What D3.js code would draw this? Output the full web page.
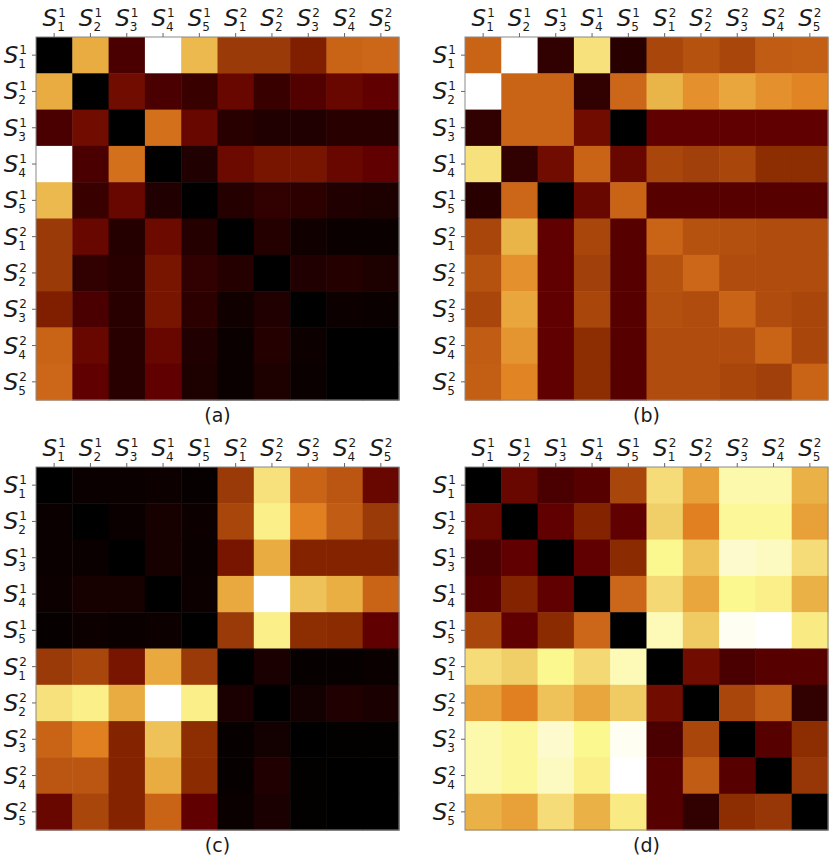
<!DOCTYPE html>
<html>
<head>
<meta charset="utf-8">
<script src="https://cdnjs.cloudflare.com/ajax/libs/d3/7.8.5/d3.min.js"></script>
<style>
  body { margin: 0; background: #fff; }
  text { font-family: "DejaVu Sans", sans-serif; fill: #1a1a1a; }
</style>
</head>
<body>
<svg id="chart"></svg>
<script>
// SET CONSTANTS
const width = 832;
const height = 863;
const cellCount = 10;

// tick labels: S^{sup}_{sub}
const labelSup = [1, 1, 1, 1, 1, 2, 2, 2, 2, 2];
const labelSub = [1, 2, 3, 4, 5, 1, 2, 3, 4, 5];
const captions = ["(a)", "(b)", "(c)", "(d)"];

// matrix values, 0 = black ... 1 = white
const matrixA = [
  [0.00, 0.72, 0.20, 1.00, 0.76, 0.42, 0.42, 0.33, 0.53, 0.54],
  [0.72, 0.00, 0.29, 0.20, 0.16, 0.27, 0.16, 0.22, 0.27, 0.25],
  [0.20, 0.29, 0.00, 0.57, 0.27, 0.12, 0.10, 0.10, 0.12, 0.12],
  [1.00, 0.20, 0.57, 0.00, 0.10, 0.28, 0.31, 0.31, 0.27, 0.25],
  [0.76, 0.16, 0.27, 0.10, 0.00, 0.11, 0.14, 0.13, 0.10, 0.09],
  [0.42, 0.27, 0.11, 0.28, 0.11, 0.00, 0.11, 0.05, 0.03, 0.03],
  [0.42, 0.14, 0.12, 0.31, 0.14, 0.11, 0.00, 0.10, 0.11, 0.09],
  [0.33, 0.20, 0.12, 0.31, 0.13, 0.05, 0.10, 0.00, 0.04, 0.03],
  [0.53, 0.27, 0.12, 0.27, 0.10, 0.03, 0.11, 0.04, 0.00, 0.00],
  [0.54, 0.25, 0.12, 0.25, 0.09, 0.03, 0.09, 0.03, 0.00, 0.00]
];
const matrixB = [
  [0.53, 1.00, 0.14, 0.85, 0.12, 0.44, 0.47, 0.44, 0.50, 0.51],
  [1.00, 0.53, 0.53, 0.14, 0.54, 0.75, 0.65, 0.70, 0.65, 0.63],
  [0.14, 0.53, 0.53, 0.29, 0.00, 0.25, 0.25, 0.25, 0.25, 0.25],
  [0.85, 0.14, 0.29, 0.53, 0.27, 0.44, 0.43, 0.44, 0.37, 0.37],
  [0.12, 0.54, 0.00, 0.27, 0.53, 0.23, 0.23, 0.23, 0.23, 0.23],
  [0.44, 0.75, 0.25, 0.44, 0.23, 0.53, 0.47, 0.46, 0.45, 0.45],
  [0.47, 0.65, 0.25, 0.43, 0.23, 0.47, 0.54, 0.45, 0.45, 0.45],
  [0.44, 0.70, 0.25, 0.44, 0.23, 0.46, 0.45, 0.53, 0.45, 0.44],
  [0.50, 0.66, 0.25, 0.37, 0.23, 0.45, 0.45, 0.45, 0.53, 0.44],
  [0.51, 0.63, 0.25, 0.37, 0.23, 0.45, 0.45, 0.44, 0.43, 0.53]
];
const matrixC = [
  [0.00, 0.03, 0.03, 0.04, 0.02, 0.42, 0.85, 0.53, 0.48, 0.27],
  [0.03, 0.00, 0.03, 0.07, 0.04, 0.44, 0.88, 0.62, 0.50, 0.42],
  [0.03, 0.03, 0.00, 0.07, 0.03, 0.31, 0.72, 0.34, 0.34, 0.34],
  [0.04, 0.07, 0.07, 0.00, 0.04, 0.71, 1.00, 0.78, 0.73, 0.53],
  [0.02, 0.04, 0.03, 0.04, 0.00, 0.42, 0.88, 0.37, 0.36, 0.25],
  [0.42, 0.44, 0.31, 0.71, 0.42, 0.00, 0.08, 0.02, 0.02, 0.03],
  [0.85, 0.88, 0.72, 1.00, 0.88, 0.08, 0.00, 0.06, 0.10, 0.08],
  [0.53, 0.62, 0.34, 0.78, 0.37, 0.02, 0.06, 0.00, 0.01, 0.01],
  [0.48, 0.48, 0.34, 0.72, 0.36, 0.02, 0.10, 0.01, 0.00, 0.00],
  [0.27, 0.44, 0.34, 0.53, 0.25, 0.03, 0.08, 0.01, 0.00, 0.00]
];
const matrixD = [
  [0.00, 0.27, 0.20, 0.23, 0.44, 0.84, 0.68, 0.93, 0.93, 0.74],
  [0.27, 0.00, 0.25, 0.34, 0.25, 0.81, 0.62, 0.91, 0.91, 0.68],
  [0.20, 0.25, 0.00, 0.25, 0.36, 0.90, 0.78, 0.96, 0.95, 0.84],
  [0.23, 0.34, 0.25, 0.00, 0.54, 0.83, 0.70, 0.90, 0.88, 0.74],
  [0.44, 0.25, 0.36, 0.54, 0.00, 0.94, 0.80, 0.99, 1.00, 0.87],
  [0.84, 0.81, 0.90, 0.83, 0.94, 0.00, 0.29, 0.20, 0.23, 0.23],
  [0.68, 0.62, 0.78, 0.70, 0.80, 0.29, 0.00, 0.44, 0.50, 0.14],
  [0.93, 0.91, 0.96, 0.90, 0.99, 0.20, 0.44, 0.00, 0.23, 0.37],
  [0.93, 0.91, 0.95, 0.88, 1.00, 0.23, 0.50, 0.23, 0.00, 0.41],
  [0.74, 0.68, 0.84, 0.74, 0.87, 0.23, 0.14, 0.37, 0.41, 0.00]
];
const matrices = [matrixA, matrixB, matrixC, matrixD];

// heat colour map (black -> red -> orange -> yellow -> white)
const colorScale = d3.scaleLinear()
  .domain([0, 0.1, 0.2, 0.25, 0.3, 0.35, 0.42, 0.45, 0.5, 0.54, 0.62, 0.68, 0.75, 0.84, 0.9, 0.95, 1])
  .range(["#000000", "#200000", "#4a0000", "#600000", "#741000", "#882800", "#9a3a08", "#b04c0e",
          "#c05c14", "#cc6618", "#e08020", "#e8a038", "#eab548", "#f5dc78", "#fcf890", "#fcfac0", "#ffffff"])
  .clamp(true);

// panel placement
const panelSize = 363;
const panelPos = [[36, 37], [465, 37], [36, 467], [465, 467]];

var chart = d3.select("#chart").attr("width", width).attr("height", height);

// draws S^{sup}_{sub}, anchored at (x, y) = baseline of S
function drawLabel(parent, x, y, sup, sub, align) {
  var lg = parent.append("g");
  var s = lg.append("text")
    .attr("font-size", 23)
    .attr("font-style", "italic")
    .text("S");
  var w = s.node().getComputedTextLength();
  lg.append("text").attr("x", w + 1).attr("y", -9).attr("font-size", 12).text(sup);
  lg.append("text").attr("x", w).attr("y", 5).attr("font-size", 12).text(sub);
  var bb = lg.node().getBBox();
  var dx = align === "middle" ? x - (bb.x + bb.width / 2) : x - (bb.x + bb.width);
  lg.attr("transform", "translate(" + dx + "," + y + ")");
}

matrices.forEach(function(m, p) {
  var g = chart.append("g")
    .attr("transform", "translate(" + panelPos[p][0] + "," + panelPos[p][1] + ")");

  var idx = d3.range(cellCount);
  var x = d3.scaleBand().domain(idx).range([0, panelSize]);
  var y = d3.scaleBand().domain(idx).range([0, panelSize]);

  var cells = [];
  m.forEach((row, r) => row.forEach((v, c) => cells.push({r: r, c: c, v: v})));

  g.selectAll("rect.cell").data(cells).enter().append("rect")
    .attr("class", "cell")
    .attr("x", (d) => x(d.c))
    .attr("y", (d) => y(d.r))
    .attr("width", x.bandwidth() + 0.5)
    .attr("height", y.bandwidth() + 0.5)
    .attr("fill", (d) => colorScale(d.v));

  // frame
  g.append("rect")
    .attr("width", panelSize).attr("height", panelSize)
    .attr("fill", "none").attr("stroke", "#8a8a8a").attr("stroke-width", 1);

  // ticks via axes, labels drawn by hand
  var top = g.append("g").call(d3.axisTop(x).tickSize(4).tickFormat(""));
  var left = g.append("g").call(d3.axisLeft(y).tickSize(4).tickFormat(""));
  top.select(".domain").remove();
  left.select(".domain").remove();
  g.selectAll(".tick line").attr("stroke", "#666");

  idx.forEach(function(i) {
    drawLabel(g, x(i) + x.bandwidth() / 2, -11, labelSup[i], labelSub[i], "middle");
    drawLabel(g, -9, y(i) + y.bandwidth() / 2 + 8, labelSup[i], labelSub[i], "end");
  });

  g.append("text")
    .attr("x", panelSize / 2)
    .attr("y", panelSize + 22)
    .attr("text-anchor", "middle")
    .attr("font-size", 19)
    .text(captions[p]);
});
</script>
</body>
</html>
